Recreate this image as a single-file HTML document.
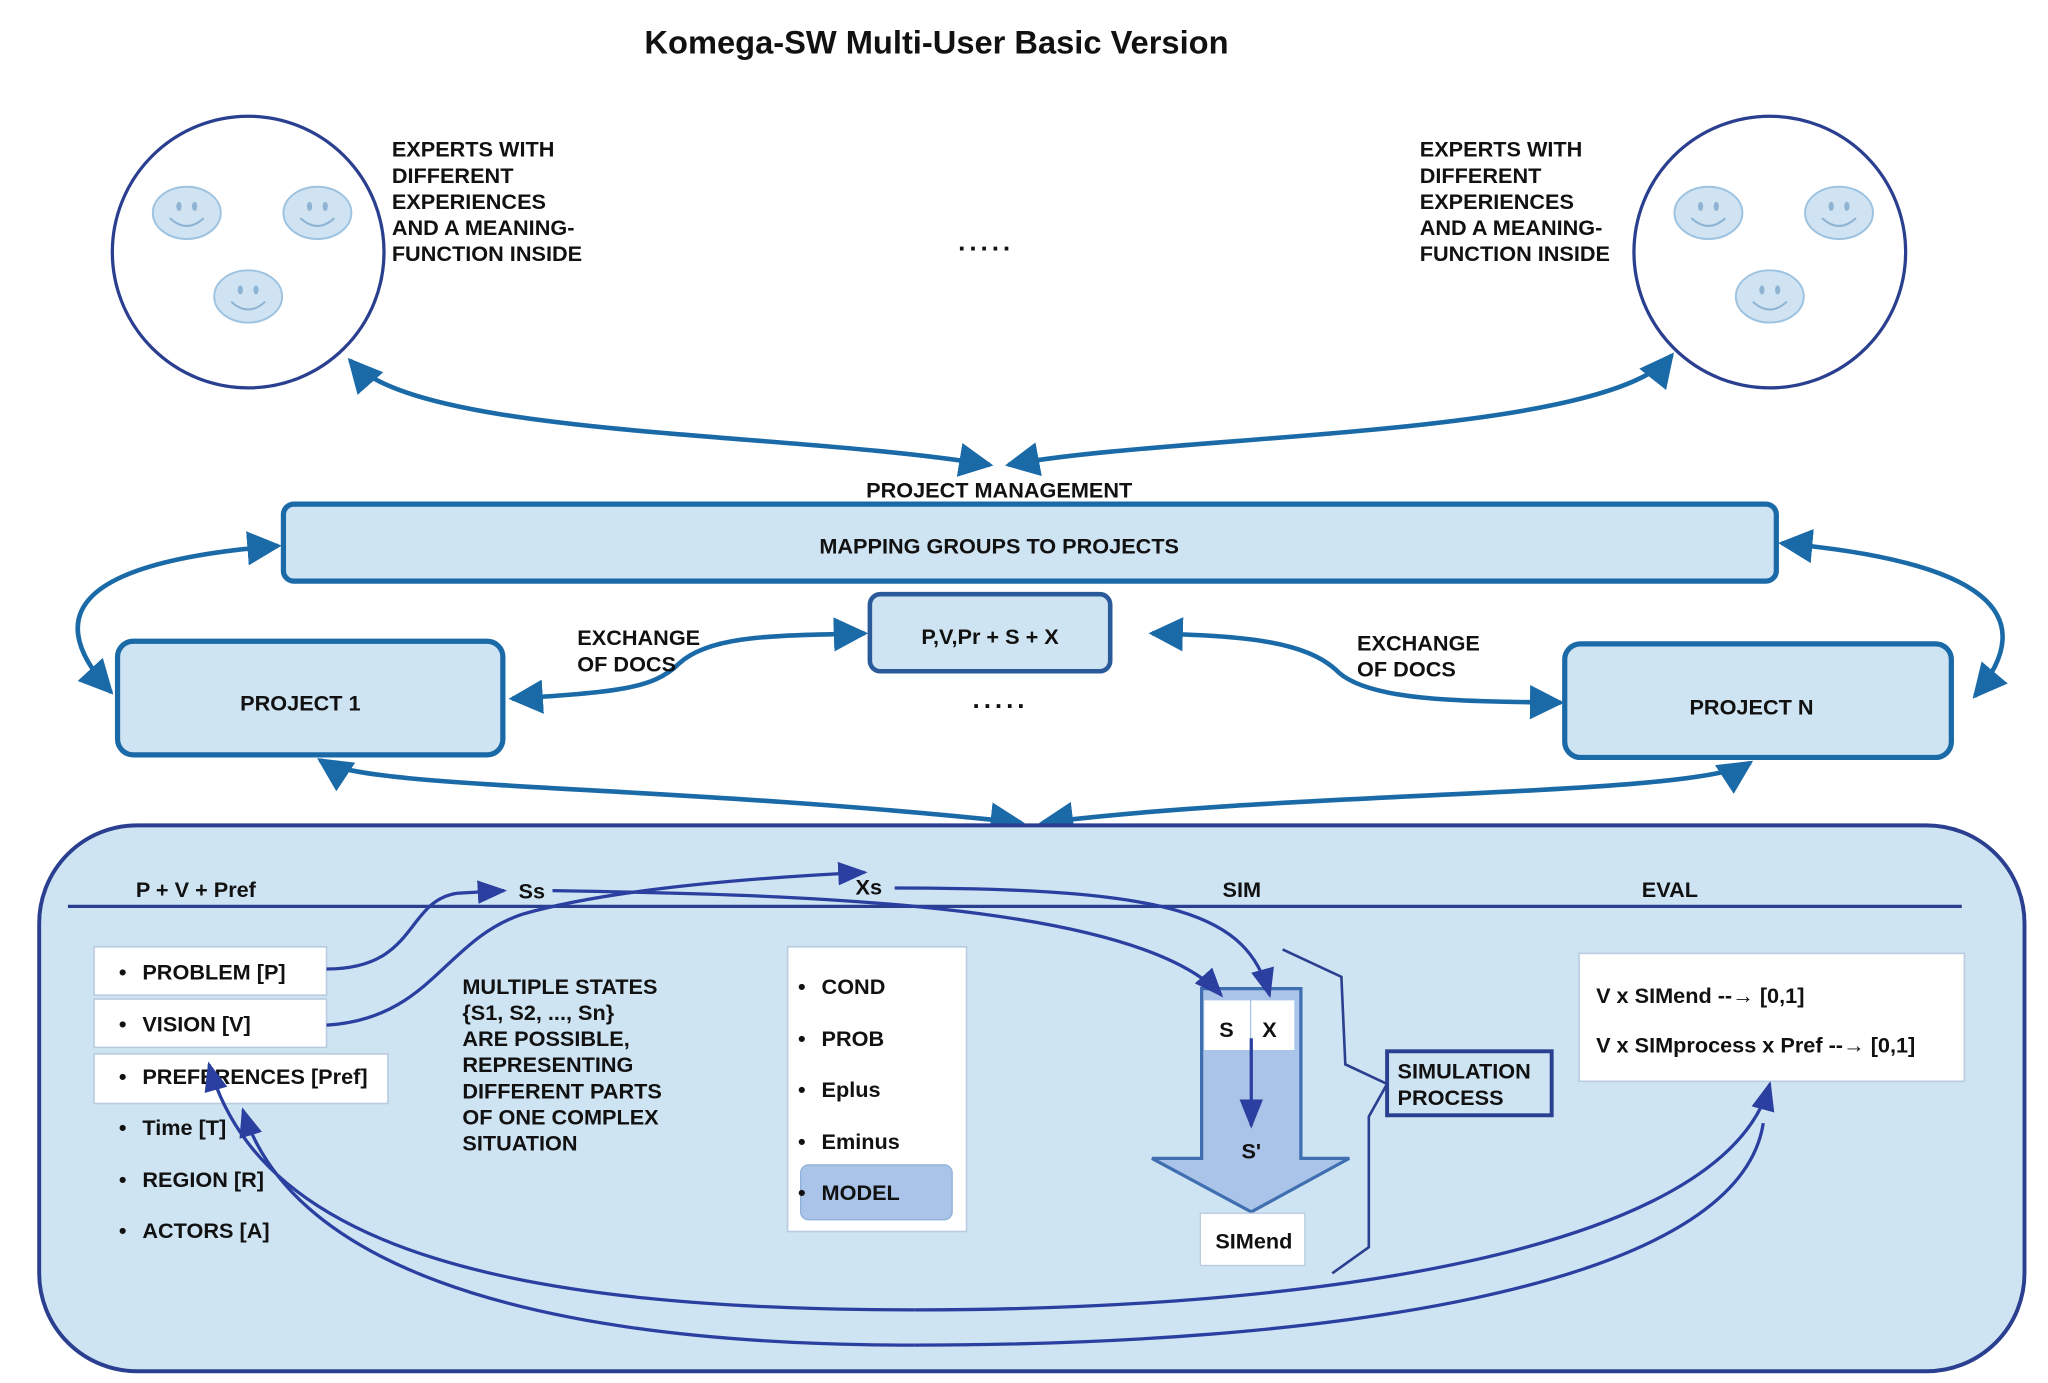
<!DOCTYPE html>
<html><head><meta charset="utf-8"><style>
html,body{margin:0;padding:0;background:#fff;}
svg{display:block;}
text{font-family:"Liberation Sans",sans-serif;font-weight:bold;fill:#111;font-size:16.6px;}
</style></head><body>
<svg width="2048" height="1383" viewBox="0 0 1568 1059" preserveAspectRatio="none" xmlns="http://www.w3.org/2000/svg">
<defs>
<marker id="a1" viewBox="0 0 10 10" refX="9" refY="5" markerWidth="7.5" markerHeight="7.5" markerUnits="strokeWidth" orient="auto-start-reverse"><path d="M0,0 L10,5 L0,10 z" fill="#1a6aa8"/></marker>
<marker id="a2" viewBox="0 0 10 10" refX="9" refY="5" markerWidth="9" markerHeight="9" markerUnits="strokeWidth" orient="auto-start-reverse"><path d="M0,1 L10,5 L0,9 z" fill="#2a3f9f"/></marker>
<g id="sm"><ellipse cx="0" cy="0" rx="26" ry="20" fill="#cfe3f2" stroke="#9ec3e0" stroke-width="1.5"/><ellipse cx="-6" cy="-5" rx="2" ry="3.5" fill="#8fb3d3"/><ellipse cx="6" cy="-5" rx="2" ry="3.5" fill="#8fb3d3"/><path d="M-13,4 Q0,16 13,4" fill="none" stroke="#8fb3d3" stroke-width="1.5"/></g>
</defs>
<text x="717" y="41" text-anchor="middle" style="font-size:25px">Komega-SW Multi-User Basic Version</text>

<circle cx="190" cy="193" r="104" fill="#fff" stroke="#2a3f8f" stroke-width="2.5"/>
<use href="#sm" x="143" y="163"/><use href="#sm" x="243" y="163"/><use href="#sm" x="190" y="227"/>
<circle cx="1355" cy="193" r="104" fill="#fff" stroke="#2a3f8f" stroke-width="2.5"/>
<use href="#sm" x="1308" y="163"/><use href="#sm" x="1408" y="163"/><use href="#sm" x="1355" y="227"/>

<g><text x="300" y="120">EXPERTS WITH</text><text x="300" y="140">DIFFERENT</text><text x="300" y="160">EXPERIENCES</text><text x="300" y="180">AND A MEANING-</text><text x="300" y="200">FUNCTION INSIDE</text></g>
<g><text x="1087" y="120">EXPERTS WITH</text><text x="1087" y="140">DIFFERENT</text><text x="1087" y="160">EXPERIENCES</text><text x="1087" y="180">AND A MEANING-</text><text x="1087" y="200">FUNCTION INSIDE</text></g>
<text x="755" y="192" text-anchor="middle" style="font-size:20px;letter-spacing:3px">.....</text>

<g fill="none" stroke="#1a6aa8" stroke-width="3.5" marker-start="url(#a1)" marker-end="url(#a1)">
<path d="M268,276 C320,335 600,330 758,356"/>
<path d="M1280,272 C1230,335 900,332 772,356"/>
<path d="M392,535 C470,530 500,528 520,508 C545,485 600,487 662,485"/>
<path d="M882,485 C950,487 1000,490 1025,515 C1050,537 1120,537 1195,538"/>
<path d="M213,418 C60,430 30,470 85,530"/>
<path d="M1364,416 C1520,430 1565,470 1512,533"/>
<path d="M245,582 C280,605 500,600 782,630"/>
<path d="M1340,584 C1300,610 1000,605 798,630"/>
</g>

<text x="765" y="381" text-anchor="middle">PROJECT MANAGEMENT</text>
<rect x="217" y="386" width="1143" height="59" rx="8" fill="#cfe4f3" stroke="#1a6aa8" stroke-width="4"/>
<text x="765" y="424" text-anchor="middle">MAPPING GROUPS TO PROJECTS</text>
<rect x="666" y="455" width="184" height="59" rx="8" fill="#cfe4f3" stroke="#2a5a9a" stroke-width="3.5"/>
<text x="758" y="493" text-anchor="middle">P,V,Pr + S + X</text>
<rect x="90" y="491" width="295" height="87" rx="12" fill="#cfe4f3" stroke="#1a6aa8" stroke-width="4"/>
<text x="230" y="544" text-anchor="middle">PROJECT 1</text>
<rect x="1198" y="493" width="296" height="87" rx="12" fill="#cfe4f3" stroke="#1a6aa8" stroke-width="4"/>
<text x="1341" y="547" text-anchor="middle">PROJECT N</text>
<text x="766" y="542" text-anchor="middle" style="font-size:20px;letter-spacing:3px">.....</text>
<text x="442" y="494">EXCHANGE</text><text x="442" y="514">OF DOCS</text>
<text x="1039" y="498">EXCHANGE</text><text x="1039" y="518">OF DOCS</text>

<rect x="30" y="632" width="1520" height="418" rx="75" fill="#cfe4f3" stroke="#2a3f8f" stroke-width="3"/>
<line x1="52" y1="694" x2="1502" y2="694" stroke="#2a3f8f" stroke-width="2.5"/>
<text x="104" y="687">P + V + Pref</text>
<text x="397" y="688">Ss</text>
<text x="655" y="685">Xs</text>
<text x="936" y="687">SIM</text>
<text x="1257" y="687">EVAL</text>

<g fill="#fff" stroke="#b8cbe0" stroke-width="1.2">
<rect x="72" y="725" width="178" height="37"/>
<rect x="72" y="765" width="178" height="37"/>
<rect x="72" y="807" width="225" height="38"/>
<rect x="603" y="725" width="137" height="218"/>
<rect x="1209" y="730" width="295" height="98"/>
</g>
<g>
<text x="91" y="750">•</text><text x="109" y="750">PROBLEM [P]</text>
<text x="91" y="790">•</text><text x="109" y="790">VISION [V]</text>
<text x="91" y="830">•</text><text x="109" y="830">PREFERENCES [Pref]</text>
<text x="91" y="869">•</text><text x="109" y="869">Time [T]</text>
<text x="91" y="909">•</text><text x="109" y="909">REGION [R]</text>
<text x="91" y="948">•</text><text x="109" y="948">ACTORS [A]</text>
</g>
<g><text x="354" y="761">MULTIPLE STATES</text><text x="354" y="781">{S1, S2, ..., Sn}</text><text x="354" y="801">ARE POSSIBLE,</text><text x="354" y="821">REPRESENTING</text><text x="354" y="841">DIFFERENT PARTS</text><text x="354" y="861">OF ONE COMPLEX</text><text x="354" y="881">SITUATION</text></g>
<rect x="613" y="892" width="116" height="42" rx="6" fill="#a9c4e8" stroke="#8fb0d8" stroke-width="1"/>
<g>
<text x="611" y="761">•</text><text x="629" y="761">COND</text>
<text x="611" y="801">•</text><text x="629" y="801">PROB</text>
<text x="611" y="840">•</text><text x="629" y="840">Eplus</text>
<text x="611" y="880">•</text><text x="629" y="880">Eminus</text>
<text x="611" y="919">•</text><text x="629" y="919">MODEL</text>
</g>

<path d="M920,757 L996,757 L996,887 L1033,887 L958,928 L882,887 L920,887 Z" fill="#a9c4e8" stroke="#3f6fb0" stroke-width="2.5"/>
<rect x="922" y="766" width="35" height="38" fill="#fff"/>
<rect x="958" y="766" width="33" height="38" fill="#fff"/>
<text x="939" y="794" text-anchor="middle">S</text>
<text x="972" y="794" text-anchor="middle">X</text>
<text x="958" y="887" text-anchor="middle">S'</text>
<rect x="919" y="929" width="80" height="40" fill="#fff" stroke="#b8cbe0"/>
<text x="960" y="956" text-anchor="middle">SIMend</text>
<line x1="958" y1="795" x2="958" y2="862" stroke="#2a3f9f" stroke-width="2.5" marker-end="url(#a2)"/>
<polyline points="982,727 1027,748 1030,815 1062,830 1048,855 1048,955 1020,975" fill="none" stroke="#2a3f8f" stroke-width="2"/>
<rect x="1062" y="805" width="126" height="49" fill="none" stroke="#2a3f8f" stroke-width="3"/>
<text x="1070" y="826">SIMULATION</text><text x="1070" y="846">PROCESS</text>
<text x="1222" y="768">V x SIMend --→ [0,1]</text>
<text x="1222" y="806">V x SIMprocess x Pref --→ [0,1]</text>

<g fill="none" stroke="#2a3f9f" stroke-width="2.5">
<path d="M250,742 C320,742 310,690 350,684 L386,682" marker-end="url(#a2)"/>
<path d="M250,785 C330,780 340,720 400,700 C470,680 580,672 662,668" marker-end="url(#a2)"/>
<path d="M423,682 C600,685 870,690 935,762" marker-end="url(#a2)"/>
<path d="M685,680 C900,680 955,700 972,762" marker-end="url(#a2)"/>
<path d="M700,1003 C1000,1003 1320,960 1355,830" marker-end="url(#a2)"/>
<path d="M700,1003 C400,1003 200,960 160,815" marker-end="url(#a2)"/>
<path d="M700,1030 C1000,1030 1330,990 1350,860"/>
<path d="M700,1030 C380,1030 220,960 186,850" marker-end="url(#a2)"/>
</g>
</svg>
</body></html>
